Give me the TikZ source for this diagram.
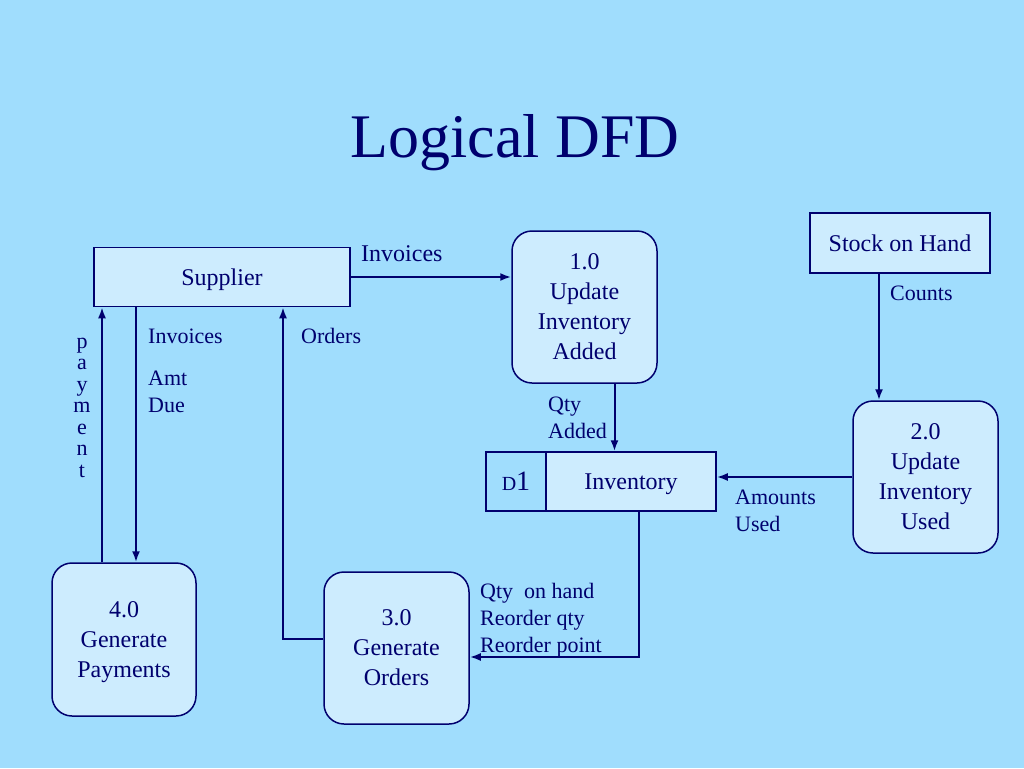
\documentclass[tikz,border=0pt]{standalone}
\usepackage{fontspec}
\setmainfont{Liberation Serif}
\usetikzlibrary{arrows.meta}
\definecolor{bgblue}{RGB}{160,221,253}
\definecolor{boxblue}{RGB}{205,236,254}
\definecolor{navy}{RGB}{0,0,110}
\tikzset{
  entity/.style={draw=navy, fill=boxblue, line width=1.5pt, text=navy,
    font=\fontsize{24}{30}\selectfont, align=center, inner sep=0pt},
  process/.style={entity, rounded corners=20pt, minimum width=145pt, minimum height=152pt},
  flow/.style={draw=navy, line width=2pt, -{Latex[length=11pt,width=8pt]}},
  lbl/.style={text=navy, font=\fontsize{22}{27}\selectfont, align=left, inner sep=0pt},
}
\begin{document}
\begin{tikzpicture}[x=1pt,y=-1pt]
  \fill[bgblue] (0,0) rectangle (1024,768);
  \useasboundingbox (0,0) rectangle (1024,768);
  \node[text=navy, font=\fontsize{62}{70}\selectfont, anchor=base] (title) at (515,157) {Logical DFD};
  % external entities
  \node[entity, text depth=0pt, minimum width=256pt, minimum height=59pt] (sup) at (222,277) {Supplier};
  \node[entity, minimum width=180pt, minimum height=60pt] (soh) at (900,243) {Stock on Hand};
  % processes
  \node[process, text depth=-3pt] (p1) at (584.5,307) {1.0\\Update\\Inventory\\Added};
  \node[process, text depth=-3pt] (p2) at (925.5,477) {2.0\\Update\\Inventory\\Used};
  \node[process, text depth=-3pt] (p3) at (396.5,648) {3.0\\Generate\\Orders};
  \node[process, text depth=-3pt, minimum width=144pt, minimum height=153pt] (p4) at (124,639.5) {4.0\\Generate\\Payments};
  % data store
  \node[entity, fill=bgblue, minimum width=60pt, minimum height=59pt] (d1) at (516,481.5)
    {{\fontsize{20}{24}\selectfont D}{\fontsize{28}{30}\selectfont 1}};
  \node[entity, text depth=0pt, minimum width=170pt, minimum height=59pt] (inv) at (631,481.5) {Inventory};
  % flows
  \draw[flow] (sup.east) -- (p1.west |- sup.east);
  \draw[flow] ([xshift=30pt]p1.south) -- ([xshift=30pt]p1.south |- inv.north);
  \draw[flow] ([xshift=-21pt]soh.south) -- ([xshift=-21pt]soh.south |- p2.north);
  \draw[flow] (p2.west) -- (p2.west -| inv.east);
  \draw[flow] ([xshift=8pt]inv.south) |- ([yshift=-9pt]p3.east);
  \draw[flow] ([yshift=9pt]p3.west) -| ([xshift=61pt]sup.south);
  \draw[flow] ([xshift=-22pt]p4.north) -- ([xshift=-22pt]p4.north |- sup.south);
  \draw[flow] ([xshift=-86pt]sup.south) -- ([xshift=-86pt]sup.south |- p4.north);
  % flow labels
  \node[lbl, font=\fontsize{24}{30}\selectfont, anchor=base west] (l1) at (361,261) {Invoices};
  \node[lbl, anchor=base west] (l2) at (548,438) {Qty\\Added};
  \node[lbl, anchor=base west] (l3) at (890,300) {Counts};
  \node[lbl, anchor=base west] (l4) at (735,531) {Amounts\\Used};
  \node[lbl, anchor=base west] (l5) at (480,652) {Qty~ on hand\\Reorder qty\\Reorder point};
  \node[lbl, anchor=base west] (l6) at (301,343) {Orders};
  \node[lbl, anchor=base west] (l7) at (148,343) {Invoices};
  \node[lbl, anchor=base west] (l8) at (148,412) {Amt\\Due};
  \node[lbl, align=center, font=\fontsize{22}{21.5}\selectfont, anchor=base] (l9) at (82,477)
    {p\\a\\y\\m\\e\\n\\t};
\end{tikzpicture}
\end{document}
